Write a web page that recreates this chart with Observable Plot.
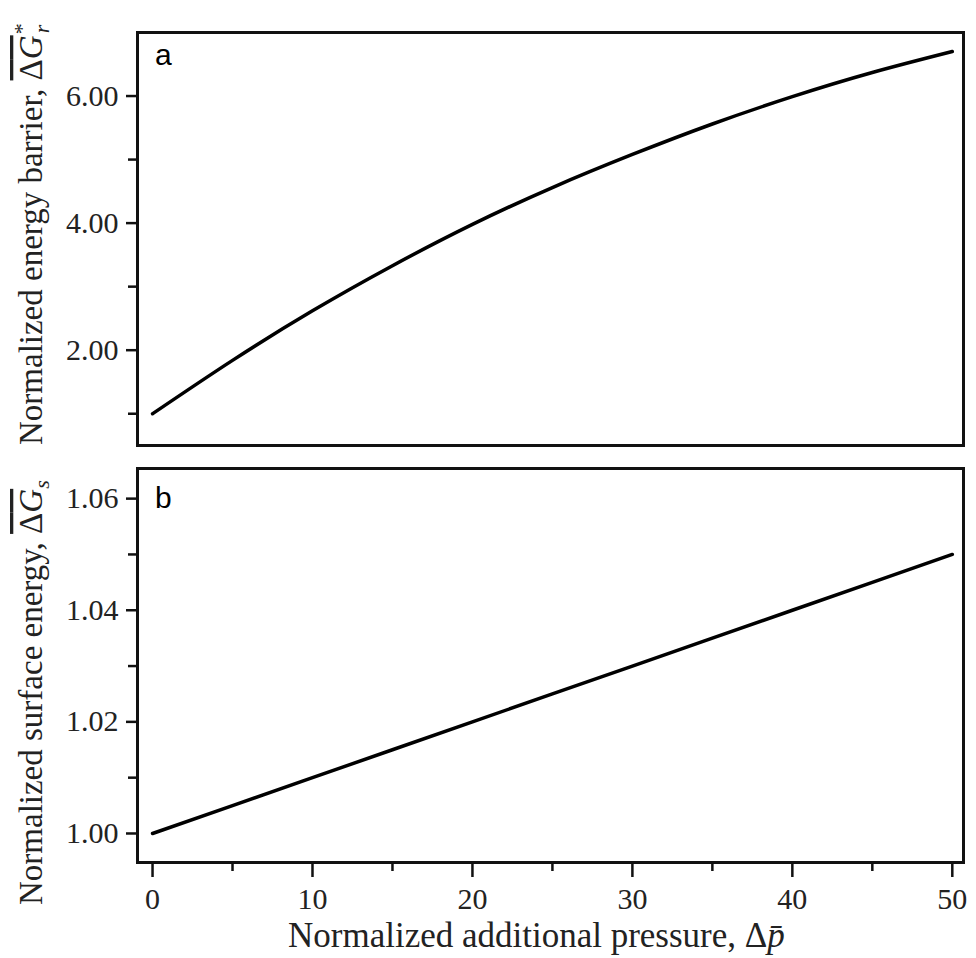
<!DOCTYPE html>
<html>
<head>
<meta charset="utf-8">
<script src="https://cdn.jsdelivr.net/npm/d3@7"></script>
<script src="https://cdn.jsdelivr.net/npm/@observablehq/plot@0.6"></script>
<style>
  html, body { margin: 0; padding: 0; background: #fff; }
  #wrap { position: relative; width: 976px; height: 958px; }
  #wrap svg { position: absolute; left: 0; overflow: visible; }
</style>
</head>
<body>
<div id="wrap"></div>
<script>
// ---- data ----
const pressure = [0, 5, 10, 15, 20, 25, 30, 35, 40, 45, 50];
const barrier  = [1.00, 1.84, 2.62, 3.33, 3.98, 4.56, 5.08, 5.56, 5.99, 6.37, 6.70];
const surface  = [1.000, 1.005, 1.010, 1.015, 1.020, 1.025, 1.030, 1.035, 1.040, 1.045, 1.050];

const xMajor = [0, 10, 20, 30, 40, 50];
const xMinor = [5, 15, 25, 35, 45];
const yTopMajor = [2, 4, 6];
const yTopMinor = [1, 3, 5];
const yBotMajor = [1.00, 1.02, 1.04, 1.06];
const yBotMinor = [1.01, 1.03, 1.05];

const topData = pressure.map((p, i) => ({p, v: barrier[i]}));
const botData = pressure.map((p, i) => ({p, v: surface[i]}));

const serif = "'Liberation Serif', 'Times New Roman', serif";
const sans = "'Liberation Sans', Arial, sans-serif";
const fmt = d3.format(".2f");
const xDomain = [-0.94, 50.7];

const wrap = document.getElementById("wrap");

// ---- top panel ----
const topPlot = Plot.plot({
  width: 976, height: 455,
  marginTop: 32, marginBottom: 10, marginLeft: 137, marginRight: 13,
  style: {fontFamily: serif, color: "#222", background: "transparent"},
  x: {domain: xDomain, axis: null},
  y: {domain: [0.5, 7.0], axis: null},
  marks: [
    Plot.axisY({ticks: yTopMajor, tickSize: 11, tickPadding: 8, tickFormat: fmt, fontSize: 30, strokeWidth: 2.5, stroke: "#111", fill: "#222", label: null}),
    Plot.axisY({ticks: yTopMinor, tickSize: 9, tickFormat: () => "", strokeWidth: 2.5, stroke: "#111", label: null}),
    Plot.line(topData, {x: "p", y: "v", curve: "natural", stroke: "#000", strokeWidth: 3.5}),
    Plot.frame({stroke: "#111", strokeWidth: 3})
  ]
});
topPlot.style.top = "0px";
wrap.appendChild(topPlot);

// ---- bottom panel ----
const botPlot = Plot.plot({
  width: 976, height: 503,
  marginTop: 13, marginBottom: 96, marginLeft: 137, marginRight: 13,
  style: {fontFamily: serif, color: "#222", background: "transparent"},
  x: {domain: xDomain, axis: null},
  y: {domain: [0.9948, 1.0654], axis: null},
  marks: [
    Plot.axisY({ticks: yBotMajor, tickSize: 11, tickPadding: 8, tickFormat: fmt, fontSize: 30, strokeWidth: 2.5, stroke: "#111", fill: "#222", label: null}),
    Plot.axisY({ticks: yBotMinor, tickSize: 9, tickFormat: () => "", strokeWidth: 2.5, stroke: "#111", label: null}),
    Plot.axisX({ticks: xMajor, tickSize: 15, tickPadding: 10, tickFormat: d3.format("d"), fontSize: 30, strokeWidth: 2.5, stroke: "#111", fill: "#222", label: null}),
    Plot.axisX({ticks: xMinor, tickSize: 9, tickFormat: () => "", strokeWidth: 2.5, stroke: "#111", label: null}),
    Plot.line(botData, {x: "p", y: "v", stroke: "#000", strokeWidth: 3.5}),
    Plot.frame({stroke: "#111", strokeWidth: 3})
  ]
});
botPlot.style.top = "455px";
wrap.appendChild(botPlot);

// ---- labels ----
function panelLetter(svg, letter, y) {
  d3.select(svg).append("text")
    .attr("x", 155).attr("y", y)
    .attr("text-anchor", "start")
    .attr("font-family", sans).attr("font-size", 30).attr("fill", "#000")
    .text(letter);
}
panelLetter(topPlot, "a", 65);
panelLetter(botPlot, "b", 508 - 455);

function yLabel(svg, x, y, main, sub, star) {
  const t = d3.select(svg).append("text")
    .attr("transform", `translate(${x},${y}) rotate(-90)`)
    .attr("font-family", serif).attr("font-size", 33).attr("fill", "#222")
    .attr("text-anchor", "start");
  t.append("tspan").text(main);
  t.append("tspan").attr("style", "text-decoration: overline").text("Δ");
  t.append("tspan").attr("font-style", "italic").attr("style", "text-decoration: overline").text("G");
  if (star) {
    t.append("tspan").attr("font-size", 22).attr("dy", -13).attr("dx", 1).text("*");
    t.append("tspan").attr("font-size", 22).attr("font-style", "italic").attr("dx", -10).attr("dy", 20).text(sub);
  } else {
    t.append("tspan").attr("font-size", 22).attr("font-style", "italic").attr("dy", 7).text(sub);
  }
}
yLabel(topPlot, 42, 445, "Normalized energy barrier, ", "r", true);
yLabel(botPlot, 42, 905 - 455, "Normalized surface energy, ", "s", false);

const xl = d3.select(botPlot).append("text")
  .attr("x", 288).attr("y", 947 - 455)
  .attr("text-anchor", "start")
  .attr("font-family", serif).attr("font-size", 35).attr("fill", "#222");
xl.append("tspan").text("Normalized additional pressure, Δ");
xl.append("tspan").attr("font-style", "italic").text("p\u0304");
</script>
</body>
</html>
